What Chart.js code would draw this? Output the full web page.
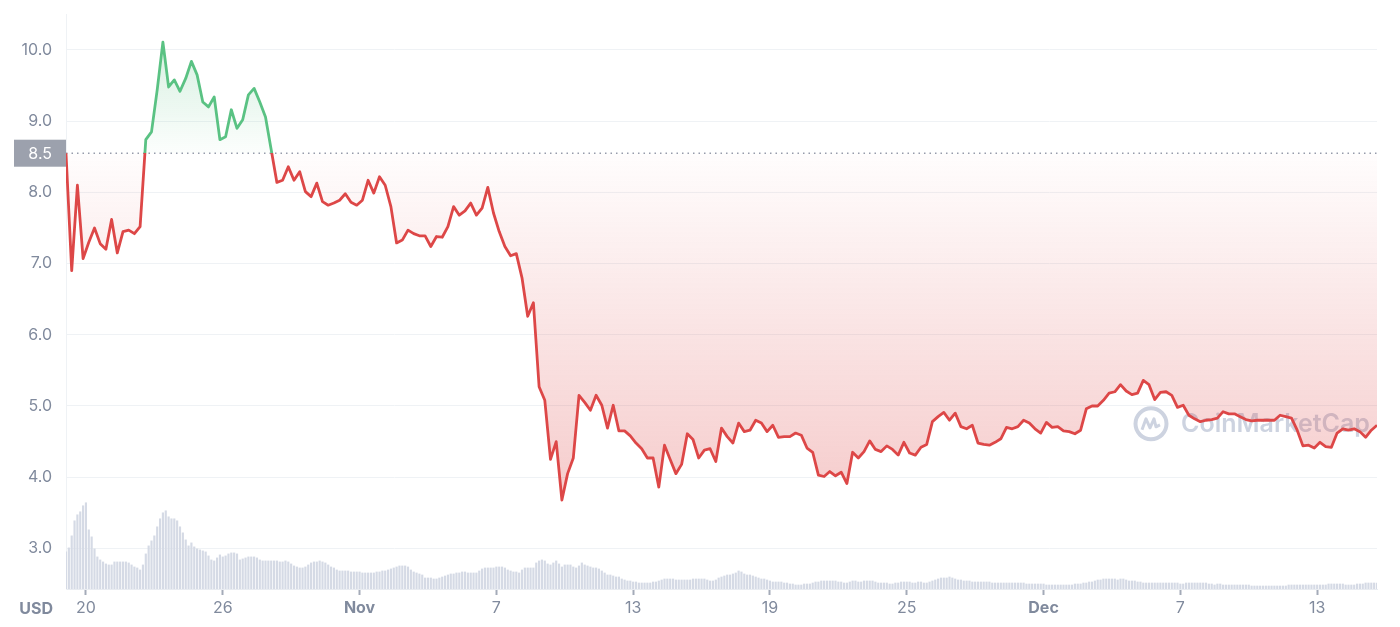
<!DOCTYPE html>
<html>
<head>
<meta charset="utf-8">
<script src="https://cdn.jsdelivr.net/npm/chart.js@4.4.0/dist/chart.umd.min.js"></script>
<style>
  html, body { margin: 0; padding: 0; background: #fff; }
  #wrap { width: 1400px; height: 627px; }
</style>
</head>
<body>
<div id="wrap"><canvas id="priceChart" width="1400" height="627"></canvas></div>
<script>
// time is counted in days from Oct 19 00:00
const startDay = 0.125;    // first sample, Oct 19 03:00
const priceStep = 0.25;    // one price every 6h
const volumeStep = 0.125;  // one volume bar every 3h

const prices = [
    8.55, 6.9, 8.1, 7.07, 7.3, 7.5, 7.28, 7.2, 7.62, 7.15,
    7.45, 7.47, 7.42, 7.52, 8.74, 8.85, 9.44, 10.11, 9.48, 9.58,
    9.42, 9.6, 9.84, 9.65, 9.27, 9.2, 9.34, 8.74, 8.78, 9.16,
    8.9, 9.02, 9.37, 9.46, 9.27, 9.06, 8.6, 8.14, 8.17, 8.36,
    8.17, 8.29, 8.01, 7.94, 8.13, 7.87, 7.82, 7.85, 7.89, 7.98,
    7.86, 7.82, 7.89, 8.17, 7.99, 8.22, 8.1, 7.8, 7.29, 7.33,
    7.47, 7.42, 7.39, 7.39, 7.24, 7.38, 7.37, 7.52, 7.8, 7.68,
    7.74, 7.85, 7.68, 7.78, 8.07, 7.71, 7.45, 7.24, 7.11, 7.14,
    6.8, 6.26, 6.45, 5.27, 5.08, 4.25, 4.5, 3.68, 4.05, 4.27,
    5.15, 5.05, 4.94, 5.15, 5.01, 4.69, 5.01, 4.65, 4.65, 4.58,
    4.48, 4.4, 4.27, 4.27, 3.86, 4.45, 4.25, 4.05, 4.18, 4.61,
    4.53, 4.27, 4.38, 4.4, 4.22, 4.69, 4.57, 4.48, 4.76, 4.64,
    4.66, 4.8, 4.76, 4.64, 4.73, 4.56, 4.57, 4.57, 4.62, 4.59,
    4.41, 4.35, 4.03, 4.01, 4.08, 4.02, 4.07, 3.91, 4.35, 4.27,
    4.36, 4.51, 4.39, 4.36, 4.44, 4.39, 4.31, 4.49, 4.34, 4.31,
    4.42, 4.46, 4.78, 4.85, 4.91, 4.8, 4.9, 4.71, 4.68, 4.73,
    4.48, 4.46, 4.45, 4.49, 4.54, 4.7, 4.68, 4.71, 4.8, 4.76,
    4.68, 4.62, 4.77, 4.7, 4.71, 4.65, 4.64, 4.61, 4.66, 4.96,
    5.0, 5.0, 5.08, 5.18, 5.2, 5.3, 5.21, 5.16, 5.18, 5.36,
    5.3, 5.09, 5.19, 5.2, 5.15, 4.98, 5.01, 4.87, 4.82, 4.78,
    4.8, 4.81, 4.83, 4.92, 4.89, 4.89, 4.85, 4.81, 4.79, 4.8,
    4.8, 4.8, 4.8, 4.87, 4.85, 4.83, 4.66, 4.44, 4.45, 4.41,
    4.49, 4.43, 4.42, 4.62, 4.68, 4.66, 4.68, 4.64, 4.56, 4.66, 4.73
];

// 24h volume, $M
const volumes = [
    37, 41, 53, 68, 74, 77, 83, 86, 59, 52,
    40, 32, 29, 27, 25, 24, 24, 27, 27, 27,
    27, 27, 26, 24, 22, 21, 19, 24, 35, 43,
    48, 53, 62, 70, 76, 78, 72, 70, 70, 68,
    62, 56, 49, 43, 46, 42, 40, 39, 38, 37,
    33, 29, 28, 31, 34, 32, 33, 35, 36, 36,
    35, 29, 30, 31, 32, 32, 32, 31, 29, 28,
    28, 28, 28, 28, 28, 27, 27, 28, 27, 25,
    23, 22, 21, 21, 22, 24, 26, 27, 27, 28,
    27, 26, 24, 22, 21, 19, 18, 18, 18, 18,
    17, 17, 17, 17, 16, 16, 16, 16, 16, 17,
    17, 18, 18, 19, 20, 21, 22, 23, 23, 23,
    22, 19, 17, 16, 15, 14, 11, 11, 11, 10,
    10, 11, 12, 13, 14, 15, 15, 16, 16, 17,
    17, 16, 16, 16, 16, 18, 20, 21, 21, 21,
    21, 22, 22, 22, 21, 19, 18, 17, 17, 16,
    19, 21, 21, 21, 21, 26, 28, 29, 28, 25,
    24, 26, 28, 25, 22, 24, 24, 24, 22, 21,
    23, 26, 24, 23, 22, 21, 21, 20, 18, 16,
    14, 14, 13, 12, 12, 10, 9, 8, 8, 7,
    7, 6, 6, 6, 6, 6, 7, 7, 8, 9,
    10, 10, 10, 10, 9, 9, 9, 9, 9, 9,
    10, 10, 10, 10, 10, 9, 8, 8, 9, 11,
    12, 13, 14, 14, 15, 16, 18, 17, 15, 14,
    14, 13, 12, 11, 10, 10, 9, 8, 7, 7,
    7, 7, 6, 6, 5, 5, 4, 4, 4, 5,
    5, 5, 6, 7, 7, 8, 8, 8, 8, 8,
    8, 7, 7, 6, 6, 7, 8, 8, 7, 7,
    8, 8, 8, 8, 7, 6, 6, 6, 6, 5,
    5, 6, 6, 7, 7, 7, 7, 6, 6, 7,
    7, 6, 6, 7, 8, 9, 10, 11, 11, 11,
    12, 11, 10, 9, 9, 8, 8, 8, 7, 7,
    7, 7, 7, 7, 7, 6, 6, 6, 6, 6,
    6, 6, 6, 6, 6, 6, 6, 5, 5, 5,
    5, 5, 5, 5, 4, 4, 4, 4, 4, 4,
    4, 4, 4, 4, 5, 5, 5, 6, 6, 7,
    7, 8, 9, 9, 10, 10, 10, 10, 10, 9,
    10, 10, 9, 8, 8, 8, 7, 7, 6, 6,
    6, 6, 6, 6, 6, 6, 6, 6, 6, 6,
    6, 5, 5, 6, 6, 6, 6, 6, 6, 6,
    6, 5, 5, 4, 5, 5, 4, 4, 4, 4,
    4, 4, 4, 4, 4, 4, 3, 3, 3, 3,
    3, 3, 3, 3, 3, 3, 3, 3, 3, 4,
    4, 4, 4, 4, 4, 4, 4, 4, 4, 4,
    4, 4, 4, 5, 5, 5, 5, 5, 5, 4,
    4, 4, 4, 5, 5, 5, 6, 6, 6, 6,
    6
];

const tickDays = [1, 7, 13, 19, 25, 31, 37, 43, 49, 55];
const tickLabels = ['20', '26', 'Nov', '7', '13', '19', '25', 'Dec', '7', '13'];
const monthLabels = ['Nov', 'Dec'];
const yTicks = [3, 4, 5, 6, 7, 8, 9, 10];

const basePrice = prices[0]; // reference line = first price
const lastDay = startDay + (prices.length - 1) * priceStep;

const GREEN = '#5ac283';
const RED = '#dd4747';
const GREY = '#808a9d';
const GRID = '#eff2f5';
const FONT = 'Inter, "Noto Sans", sans-serif';

const priceData = prices.map((p, i) => ({ x: startDay + i * priceStep, y: p }));
const volumeData = volumes.map((v, j) => ({ x: startDay + j * volumeStep, y: v }));

// green above the reference price, red below, split exactly at its pixel
const splitColors = {
    id: 'splitColors',
    afterLayout(chart) {
        const { ctx, chartArea } = chart;
        const y = chart.scales.y;
        const baseY = y.getPixelForValue(basePrice);
        const topY = y.getPixelForValue(Math.max(...prices));
        const botY = y.getPixelForValue(Math.min(...prices));
        const t = (baseY - chartArea.top) / (chartArea.bottom - chartArea.top);

        const line = ctx.createLinearGradient(0, chartArea.top, 0, chartArea.bottom);
        line.addColorStop(0, GREEN);
        line.addColorStop(t, GREEN);
        line.addColorStop(t, RED);
        line.addColorStop(1, RED);

        const up = ctx.createLinearGradient(0, topY, 0, baseY);
        up.addColorStop(0, 'rgba(90,194,131,0.24)');
        up.addColorStop(1, 'rgba(90,194,131,0.02)');

        const down = ctx.createLinearGradient(0, baseY, 0, botY);
        down.addColorStop(0, 'rgba(221,71,71,0.01)');
        down.addColorStop(1, 'rgba(221,71,71,0.28)');

        const ds = chart.data.datasets[0];
        ds.borderColor = line;
        ds.fill = { target: { value: basePrice }, above: up, below: down };
    }
};

const watermark = {
    id: 'watermark',
    beforeDatasetsDraw(chart) {
        const { ctx, chartArea } = chart;
        const cx = chartArea.right - 226;
        const cy = chart.scales.y.getPixelForValue(4.75);
        ctx.save();
        ctx.strokeStyle = '#cdd3e0';
        ctx.fillStyle = '#cdd3e0';
        ctx.lineWidth = 4;
        ctx.beginPath();
        ctx.arc(cx, cy, 15.5, 0, Math.PI * 2);
        ctx.stroke();
        ctx.lineWidth = 3;
        ctx.lineJoin = 'round';
        ctx.beginPath();
        ctx.moveTo(cx - 9, cy + 6);
        ctx.lineTo(cx - 5, cy - 5);
        ctx.lineTo(cx - 1, cy + 4);
        ctx.lineTo(cx + 3, cy - 5);
        ctx.lineTo(cx + 5, cy + 3);
        ctx.lineTo(cx + 9, cy + 1);
        ctx.stroke();
        ctx.font = '600 25px ' + FONT;
        ctx.textAlign = 'left';
        ctx.textBaseline = 'middle';
        ctx.fillText('CoinMarketCap', cx + 30, cy + 1);
        ctx.restore();
    }
};

const axisExtras = {
    id: 'axisExtras',
    afterDraw(chart) {
        const { ctx, chartArea } = chart;
        const baseY = chart.scales.y.getPixelForValue(basePrice);
        ctx.save();
        // reference price tag
        ctx.fillStyle = '#9ca1ad';
        ctx.fillRect(14, baseY - 13.5, chartArea.left - 14, 27);
        ctx.fillStyle = '#ffffff';
        ctx.font = '16px ' + FONT;
        ctx.textAlign = 'right';
        ctx.textBaseline = 'middle';
        ctx.fillText((Math.floor(basePrice * 10) / 10).toFixed(1), chartArea.left - 14, baseY + 1);
        // currency label
        ctx.fillStyle = GREY;
        ctx.font = 'bold 16px ' + FONT;
        ctx.fillText('USD', chartArea.left - 13, chart.scales.x.top + 20);
        ctx.restore();
    }
};

new Chart(document.getElementById('priceChart'), {
    type: 'line',
    data: {
        datasets: [
            {
                label: 'Price',
                data: priceData,
                borderColor: RED,
                borderWidth: 2.8,
                borderJoinStyle: 'round',
                pointRadius: 0,
                tension: 0,
                fill: { target: { value: basePrice }, above: 'transparent', below: 'transparent' },
                order: 1
            },
            {
                label: 'Reference',
                data: [{ x: startDay, y: basePrice }, { x: lastDay, y: basePrice }],
                borderColor: '#969cab',
                borderWidth: 1.5,
                borderDash: [1.5, 4],
                pointRadius: 0,
                fill: false,
                order: 2
            },
            {
                type: 'bar',
                label: 'Volume',
                data: volumeData,
                yAxisID: 'yv',
                backgroundColor: '#d5dae5',
                barThickness: 1.5,
                order: 3
            }
        ]
    },
    options: {
        responsive: false,
        animation: false,
        layout: { padding: { top: 14, right: 23, bottom: 0, left: 0 } },
        plugins: {
            legend: { display: false },
            tooltip: { enabled: false }
        },
        scales: {
            x: {
                type: 'linear',
                min: startDay,
                max: lastDay,
                offset: false,
                afterBuildTicks: scale => { scale.ticks = tickDays.map(v => ({ value: v })); },
                afterFit: scale => {
                    scale.height = 38;
                    scale.paddingLeft = 0;
                    scale.paddingRight = 0;
                },
                grid: {
                    offset: false,
                    drawOnChartArea: false,
                    drawTicks: true,
                    tickLength: 6,
                    tickColor: '#a4abb8',
                    tickWidth: 2
                },
                border: { display: true, color: '#e9ecf1', width: 1 },
                ticks: {
                    autoSkip: false,
                    maxRotation: 0,
                    padding: 4,
                    color: GREY,
                    font: ctx => ({
                        family: FONT,
                        size: 16,
                        weight: monthLabels.includes(tickLabels[ctx.index]) ? 'bold' : 'normal'
                    }),
                    callback: (value, index) => tickLabels[index]
                }
            },
            y: {
                position: 'left',
                min: 2.43,
                max: 10.505,
                afterBuildTicks: scale => { scale.ticks = yTicks.map(v => ({ value: v })); },
                afterFit: scale => {
                    scale.width = 66;
                    scale.paddingTop = 0;
                    scale.paddingBottom = 0;
                },
                grid: { color: GRID, drawTicks: false },
                border: { display: true, color: GRID },
                ticks: {
                    padding: 14,
                    color: GREY,
                    font: { family: FONT, size: 16 },
                    callback: value => Number(value).toFixed(1)
                }
            },
            yv: {
                display: false,
                min: 0,
                max: Math.max(...volumes) / 0.15
            }
        }
    },
    plugins: [splitColors, watermark, axisExtras]
});
</script>
</body>
</html>
